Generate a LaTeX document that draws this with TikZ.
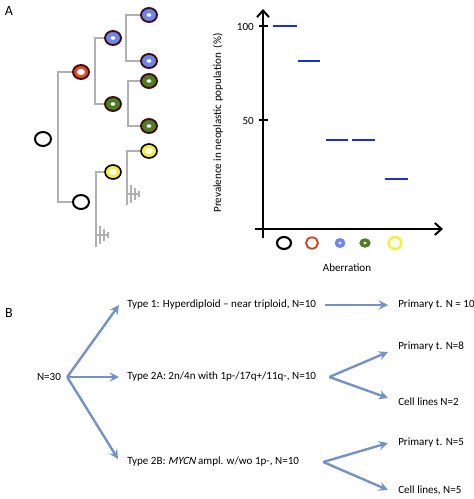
\documentclass[tikz,border=0pt]{standalone}
\usepackage{fontspec}
\setmainfont{Carlito}
\newfontfamily\slantfont{Carlito}[FakeSlant=0.22]
\usetikzlibrary{shapes.geometric,arrows.meta,calc}
\definecolor{brgray}{HTML}{B0B0B0}
\definecolor{cblue}{HTML}{6F86E6}
\definecolor{cgreen}{HTML}{4E7D22}
\definecolor{cred}{HTML}{E04A2A}
\definecolor{cyel}{HTML}{F2EE3A}
\definecolor{dkout}{HTML}{3B0D12}
\definecolor{arrblue}{HTML}{7393C6}
\definecolor{barblue}{HTML}{1C2FD6}
\tikzset{
  cell/.style n args={5}{ellipse, inner sep=0pt, minimum width=12pt, minimum height=10.5pt,
    draw=#1, line width=#2, fill=#3,
    path picture={\fill[white] (path picture bounding box.center) ellipse (#4 and #5);}},
  br/.style={draw=brgray, line width=1.8pt},
  comb/.style={draw=brgray, line width=1.1pt},
  lbl/.style={font=\fontsize{8.3}{10}\selectfont, inner sep=3pt},
  flow/.style={draw=arrblue, line width=1.8pt, -{Stealth[length=7pt,width=7pt,inset=2.5pt]}},
  axis/.style={draw=black, line width=1.5pt},
  bar/.style={draw=barblue, line width=1.5pt},
}
\begin{document}
\begin{tikzpicture}[x=0.75pt,y=-0.75pt]
\useasboundingbox (0,0) rectangle (474,499);
% ---------- panel A : tree ----------
\node[font=\fontsize{10.5}{12}\selectfont] (lA) at (9,11) {A};
\node[cell={black}{1.5pt}{white}{0pt}{0pt}] (root) at (43,139) {};
\node[cell={dkout}{1.4pt}{cred}{3pt}{2.3pt}] (red) at (81,72) {};
\node[cell={black}{1.5pt}{white}{0pt}{0pt}] (blk2) at (81,202) {};
\node[cell={dkout}{1.4pt}{cblue}{1.8pt}{1.3pt}] (bm) at (113,38) {};
\node[cell={dkout}{1.4pt}{cgreen}{1.8pt}{1.3pt}] (gm) at (113,104) {};
\node[cell={black}{1.2pt}{cyel}{3pt}{2.3pt}] (ym) at (113,172) {};
\node[cell={dkout}{1.4pt}{cblue}{1.8pt}{1.3pt}] (bt) at (149,15) {};
\node[cell={dkout}{1.4pt}{cblue}{1.8pt}{1.3pt}] (bb) at (149,61) {};
\node[cell={dkout}{1.4pt}{cgreen}{1.8pt}{1.3pt}] (gt) at (149,81) {};
\node[cell={dkout}{1.4pt}{cgreen}{1.8pt}{1.3pt}] (gb) at (149,126) {};
\node[cell={black}{1.2pt}{cyel}{3pt}{2.3pt}] (yt) at (149,151) {};
% brackets
\draw[br] (red.west) -- ++(-14,0) |- (blk2.west);
\draw[br] (bm.west) -- ++(-9,0) |- (gm.west);
\draw[br] (bt.west) -- ++(-14,0) |- (bb.west);
\draw[br] (gt.west) -- ++(-12,0) |- (gb.west);
\draw[br] (yt.west) -- ++(-13,0) coordinate (yk) -- ++(0,54);
\draw[br] (ym.west) -- ++(-8,0) coordinate (mk) -- ++(0,75);
% combs
\draw[comb] ($(yk)+(0,43)$) -- ++(12,0);
\draw[comb] ($(yk)+(4,34)$) -- ++(0,18);
\draw[comb] ($(yk)+(8,37)$) -- ++(0,12);
\draw[comb] ($(yk)+(12,40)$) -- ++(0,6);
\draw[comb] ($(mk)+(0,63)$) -- ++(12,0);
\draw[comb] ($(mk)+(4,54)$) -- ++(0,18);
\draw[comb] ($(mk)+(8,57)$) -- ++(0,12);
\draw[comb] ($(mk)+(12,60)$) -- ++(0,6);
% ---------- panel A : chart ----------
\draw[axis, -{Straight Barb[length=5pt,width=9pt]}] (263,238) -- (263,9);
\draw[axis, -{Straight Barb[length=5pt,width=9pt]}] (255,229) -- (443,229);
\draw[axis] (259,26) -- (268,26);
\draw[axis] (259,120) -- (268,120);
\node[lbl, anchor=east] (t100) at (258,27) {100};
\node[lbl, anchor=east] (t50) at (258,121) {50};
\node[lbl, rotate=90] (ylab) at (218,123) {Prevalence in neoplastic population\ \ (\%)};
\draw[bar] (273,26) -- (297,26);
\draw[bar] (298,61) -- (320,61);
\draw[bar] (326,140) -- (348,140);
\draw[bar] (352,140) -- (375,140);
\draw[bar] (385,179) -- (408,179);
\node[ellipse, inner sep=0pt, minimum width=10.5pt, minimum height=9pt, draw=black, line width=1.6pt, fill=white] (cb) at (284,243) {};
\node[ellipse, inner sep=0pt, minimum width=9pt, minimum height=8.5pt, draw=cred!90!black, line width=1.4pt, fill=white] (cr) at (312,243) {};
\node[cell={cblue}{0.5pt}{cblue}{1.2pt}{1pt}, minimum width=7.5pt, minimum height=7pt] (cbl) at (340,243) {};
\node[cell={cgreen}{0.5pt}{cgreen}{1.3pt}{1pt}, minimum width=8pt, minimum height=6.5pt] (cg) at (365,243) {};
\node[ellipse, inner sep=0pt, minimum width=9.5pt, minimum height=9pt, draw=cyel, line width=1.8pt, fill=white] (cy) at (395,243) {};
\node[lbl] (xlab) at (347,268) {Aberration};
% ---------- panel B ----------
\node[font=\fontsize{10.5}{12}\selectfont] (lB) at (9,313) {B};
\node[lbl] (n30) at (49,377) {N=30};
\node[lbl, anchor=west] (t1) at (123,305) {Type 1: Hyperdiploid -- near triploid, N=10};
\node[lbl, anchor=west] (t2a) at (123,377) {Type 2A: 2n/4n with 1p-/17q+/11q-, N=10};
\node[lbl, anchor=west] (t2b) at (123,462) {Type 2B: {\slantfont MYCN} ampl. w/wo 1p-, N=10};
\node[lbl, anchor=west] (p1) at (394,305) {Primary t. N = 10};
\node[lbl, anchor=west] (p2a) at (394,347) {Primary t. N=8};
\node[lbl, anchor=west] (c2a) at (394,402) {Cell lines N=2};
\node[lbl, anchor=west] (p2b) at (394,443) {Primary t. N=5};
\node[lbl, anchor=west] (c2b) at (394,490) {Cell lines, N=5};
\coordinate (o30) at ($(n30.east)+(2,0)$);
\draw[flow] (o30) -- ($(t1.west)+(-4,0)$);
\draw[flow] (o30) -- ($(t2a.west)+(-4,0)$);
\draw[flow] (o30) -- ($(t2b.west)+(-5,-3)$);
\draw[flow] ($(t1.east)+(5,0)$) -- ($(p1.west)+(-6,0)$);
\coordinate (o2a) at ($(t2a.east)+(9,0)$);
\draw[flow] (o2a) -- ($(p2a.west)+(-6,5)$);
\draw[flow] (o2a) -- ($(c2a.west)+(-6,-4)$);
\coordinate (o2b) at ($(t2b.east)+(20,0)$);
\draw[flow] (o2b) -- ($(p2b.west)+(-6,0)$);
\draw[flow] (o2b) -- ($(c2b.west)+(-6,0)$);
\end{tikzpicture}
\end{document}
